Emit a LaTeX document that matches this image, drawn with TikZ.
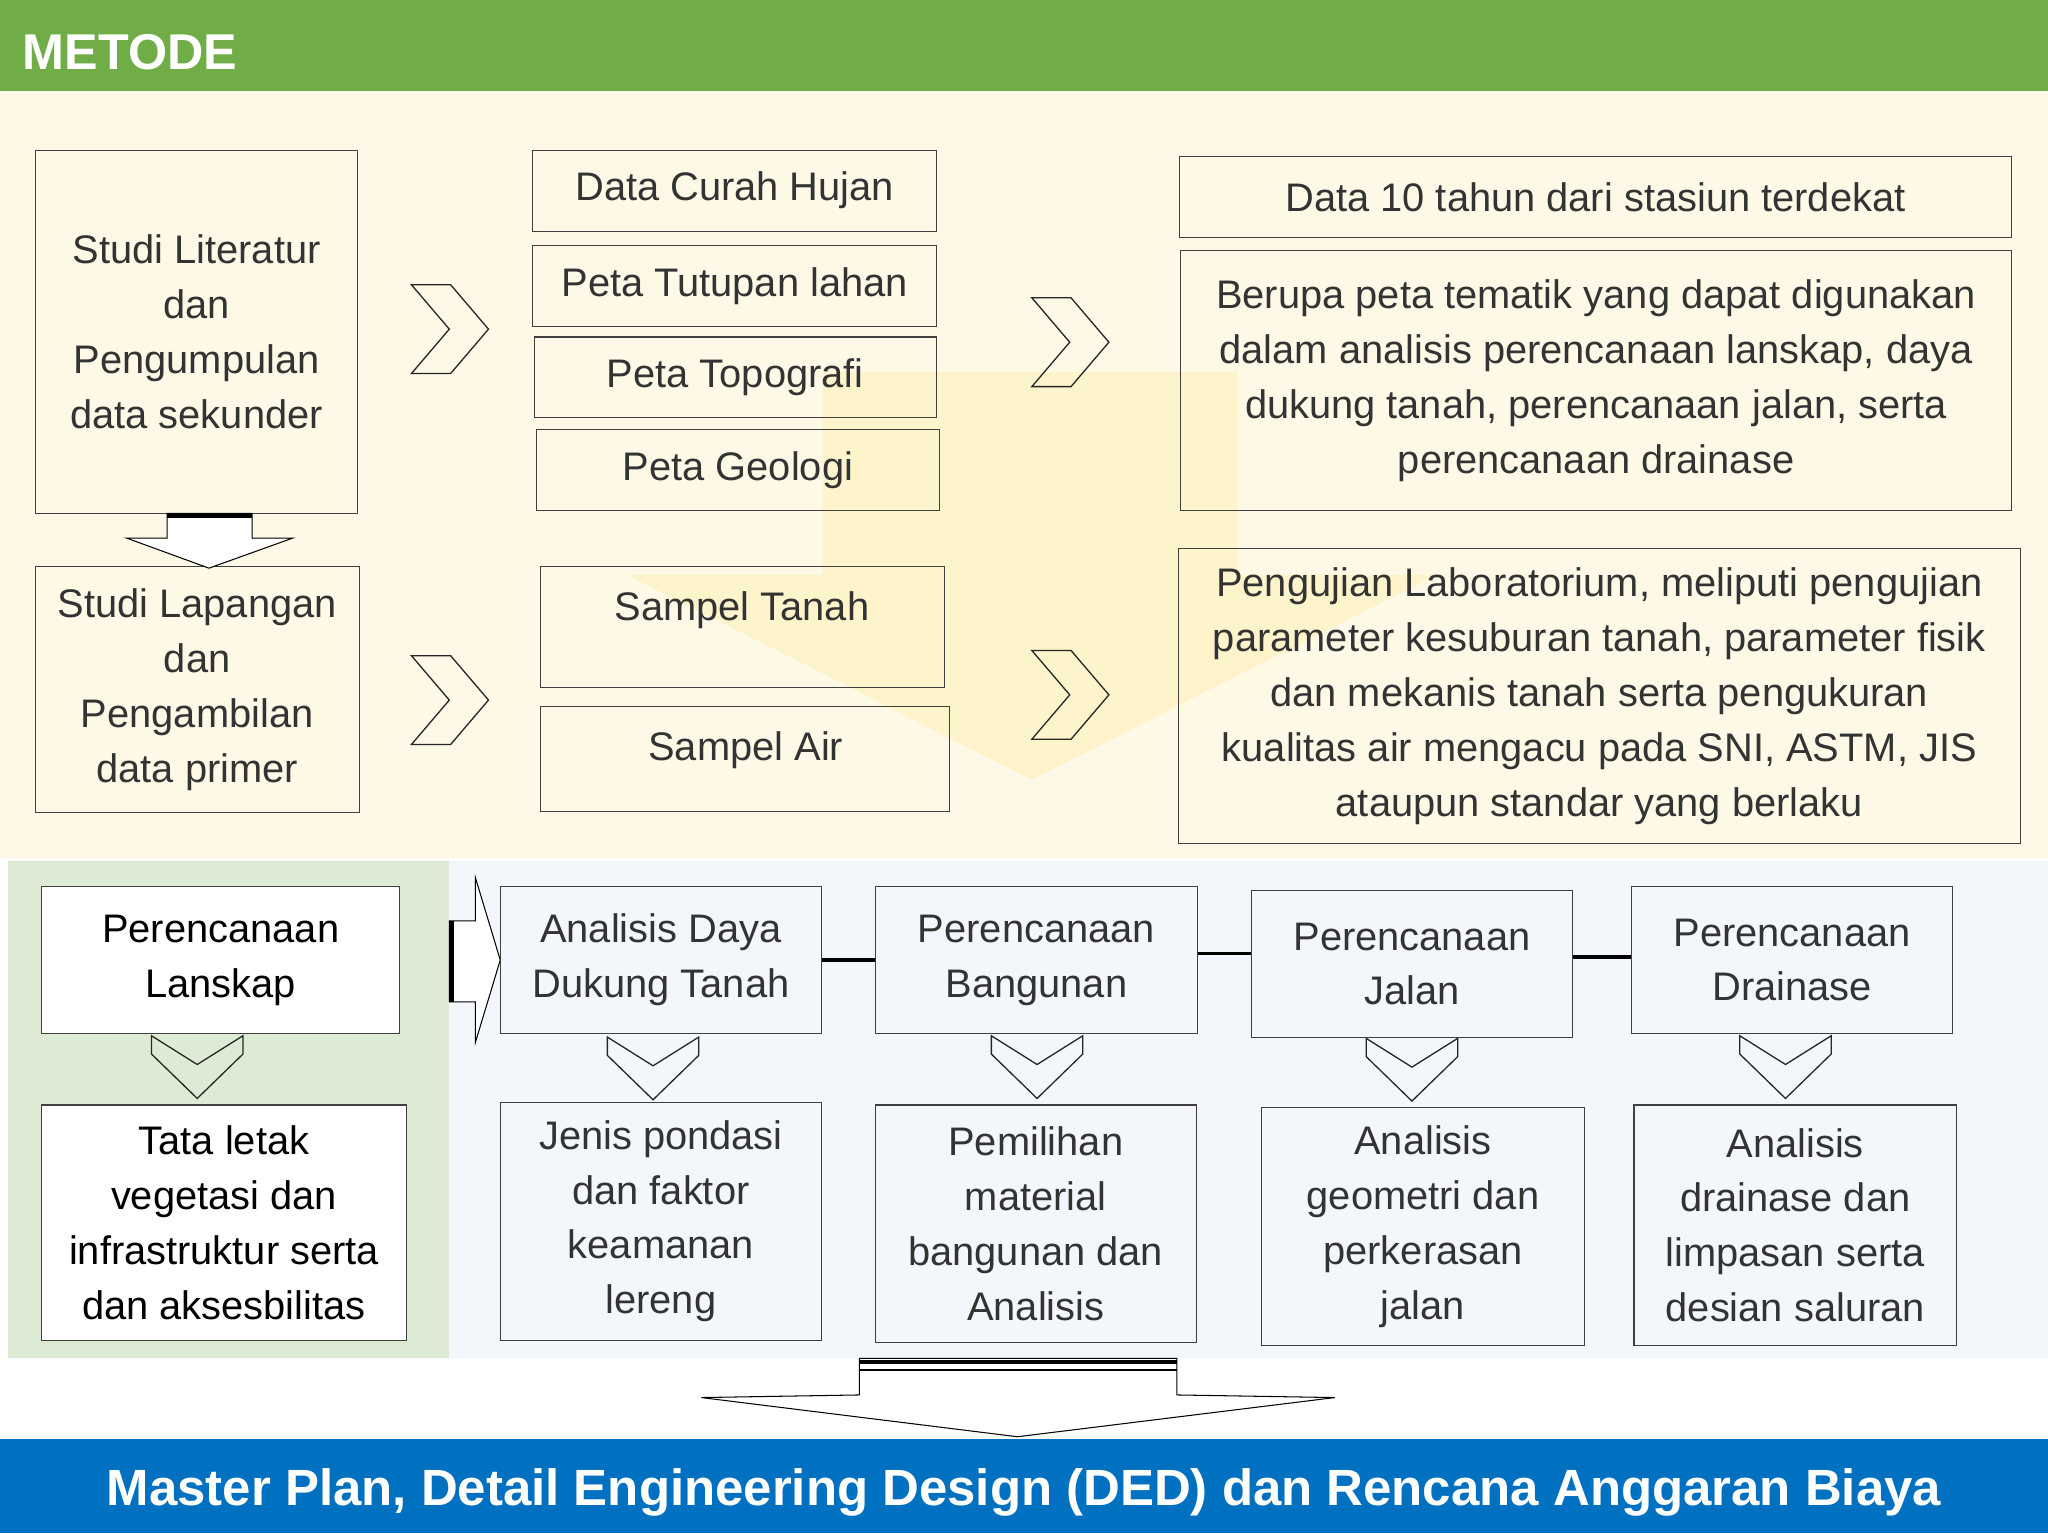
\documentclass[tikz,border=0pt]{standalone}
\usepackage{fontspec}
\setmainfont{Liberation Sans}
\definecolor{hdr}{HTML}{70AD47}
\definecolor{cream}{HTML}{FEF9E6}
\definecolor{lgreen}{HTML}{DDEBD4}
\definecolor{lblue}{HTML}{F3F7FB}
\definecolor{dblue}{HTML}{0070C0}
\definecolor{txt}{HTML}{333333}
\definecolor{ly}{HTML}{FFE680}
\newcommand\bx[7][]{\node[box,#1,minimum width={(#5-#3)*1pt},minimum height={(#6-#4)*1pt}] (#2) at ({(#3+#5)/2},{(#4+#6)/2}) {#7};}
\newcommand\chevr[3]{\draw[chev] (#2,#3) -- ++(30,0) -- ++(29,34) -- ++(-29,34) -- ++(-30,0) -- ++(29,-34) -- cycle; \coordinate (#1) at (#2,#3);}
\newcommand\chevd[3]{\draw[chev] (#2-35,#3) -- (#2,#3+22) -- (#2+35,#3) -- (#2+35,#3+14) -- (#2,#3+48) -- (#2-35,#3+14) -- cycle; \coordinate (#1) at (#2,#3);}
\tikzset{box/.style={draw=black!75,line width=0.8pt,inner sep=0pt,align=center,text=txt,font=\fontsize{30.5}{42}\selectfont},
 wbox/.style={box,fill=white,text=black},
 chev/.style={draw=black!85,line width=1pt,fill=white,fill opacity=0},
 link/.style={line width=3pt,black}}
\begin{document}
\begin{tikzpicture}[x=1pt,y=-1pt]
\useasboundingbox (0,0) rectangle (1568,1174);
\fill[white] (0,0) rectangle (1568,1174);
\fill[hdr] (0,0) rectangle (1568,70);
\node[anchor=west,text=white,font=\fontsize{38.5}{44}\selectfont\bfseries] (title) at (14,40) {METODE};
\fill[cream] (0,70) rectangle (1568,657);
\fill[lgreen] (6,659) rectangle (344,1040);
\fill[lblue] (344,659) rectangle (1568,1040);
% faint big arrow
\fill[ly,opacity=0.25] (630,285) -- (948,285) -- (948,440) -- (1100,440) -- (790,597) -- (480,440) -- (630,440) -- cycle;
\bx{sl}{27}{115}{274}{393}{Studi Literatur\\dan\\Pengumpulan\\data sekunder}
\bx{sp}{27}{434}{275}{622}{Studi Lapangan\\dan\\Pengambilan\\data primer}
\draw[line width=0.8pt,fill=white] (128,393) -- (193,393) -- (193,412) -- (224,412) -- (160,435) -- (97,412) -- (128,412) -- cycle;
\draw[line width=3pt] (128,395) -- (193,395);
\chevr{c1}{315}{218}\chevr{c2}{315}{502}\chevr{c3}{790}{228}\chevr{c4}{790}{498}
\bx{d1}{408}{115}{717}{177}{Data Curah Hujan}
\bx{d2}{408}{188}{717}{250}{Peta Tutupan lahan}
\bx{d3}{409}{258}{717}{320}{Peta Topografi}
\bx{d4}{411}{329}{719}{391}{Peta Geologi}
\bx{d5}{414}{434}{723}{526}{}
\node[text=txt,font=\fontsize{30.5}{42}\selectfont] (t5) at (568,467) {Sampel Tanah};
\bx{d6}{414}{541}{727}{621}{}
\node[text=txt,font=\fontsize{30.5}{42}\selectfont] (t6) at (571,574) {Sampel Air};
\bx{r1}{903}{120}{1540}{182}{Data 10 tahun dari stasiun terdekat}
\bx{r2}{904}{192}{1540}{391}{Berupa peta tematik yang dapat digunakan\\dalam analisis perencanaan lanskap, daya\\dukung tanah, perencanaan jalan, serta\\perencanaan drainase}
\bx{r3}{902}{420}{1547}{646}{Pengujian Laboratorium, meliputi pengujian\\parameter kesuburan tanah, parameter fisik\\dan mekanis tanah serta pengukuran\\kualitas air mengacu pada SNI, ASTM, JIS\\ataupun standar yang berlaku}
% bottom section
\bx[wbox]{pl}{32}{679}{306}{791}{Perencanaan\\Lanskap}
\bx[wbox]{tl}{32}{846}{311}{1026}{Tata letak\\vegetasi dan\\infrastruktur serta\\dan aksesbilitas}
\draw[line width=0.8pt,fill=white] (344,705) -- (364,705) -- (364,672) -- (383,735) -- (364,798) -- (364,767) -- (344,767) -- cycle;
\draw[line width=3pt] (346,705) -- (346,767);
\bx{a1}{383}{679}{629}{791}{Analisis Daya\\Dukung Tanah}
\bx{a2}{670}{679}{917}{791}{Perencanaan\\Bangunan}
\bx{a3}{958}{682}{1204}{794}{Perencanaan\\Jalan}
\bx{a4}{1249}{679}{1495}{791}{Perencanaan\\Drainase}
\draw[link] (a1.east |- 0,735) -- (a2.west |- 0,735);
\draw[link] (a2.east |- 0,730) -- (a3.west |- 0,730);
\draw[link] (a3.east |- 0,733) -- (a4.west |- 0,733);
\chevd{e0}{151}{793}\chevd{e1}{500}{794}\chevd{e2}{794}{793}\chevd{e3}{1081}{795}\chevd{e4}{1367}{793}
\bx{b1}{383}{844}{629}{1026}{Jenis pondasi\\dan faktor\\keamanan\\lereng}
\bx{b2}{670}{846}{916}{1028}{Pemilihan\\material\\bangunan dan\\Analisis}
\bx{b3}{966}{848}{1213}{1030}{Analisis\\geometri dan\\perkerasan\\jalan}
\bx{b4}{1251}{846}{1498}{1030}{Analisis\\drainase dan\\limpasan serta\\desian saluran}
\draw[line width=0.8pt,fill=white] (658,1040) -- (901,1040) -- (901,1068) -- (1022,1070) -- (779,1100) -- (537,1070) -- (658,1068) -- cycle;
\draw[line width=3pt] (658,1043) -- (901,1043);
\draw[line width=2pt] (658,1049) -- (901,1049);
\fill[dblue] (0,1102) rectangle (1568,1174);
\node[text=white,font=\fontsize{39}{44}\selectfont\bfseries] (mp) at (784,1143) {Master Plan, Detail Engineering Design (DED) dan Rencana Anggaran Biaya};
\end{tikzpicture}
\end{document}
